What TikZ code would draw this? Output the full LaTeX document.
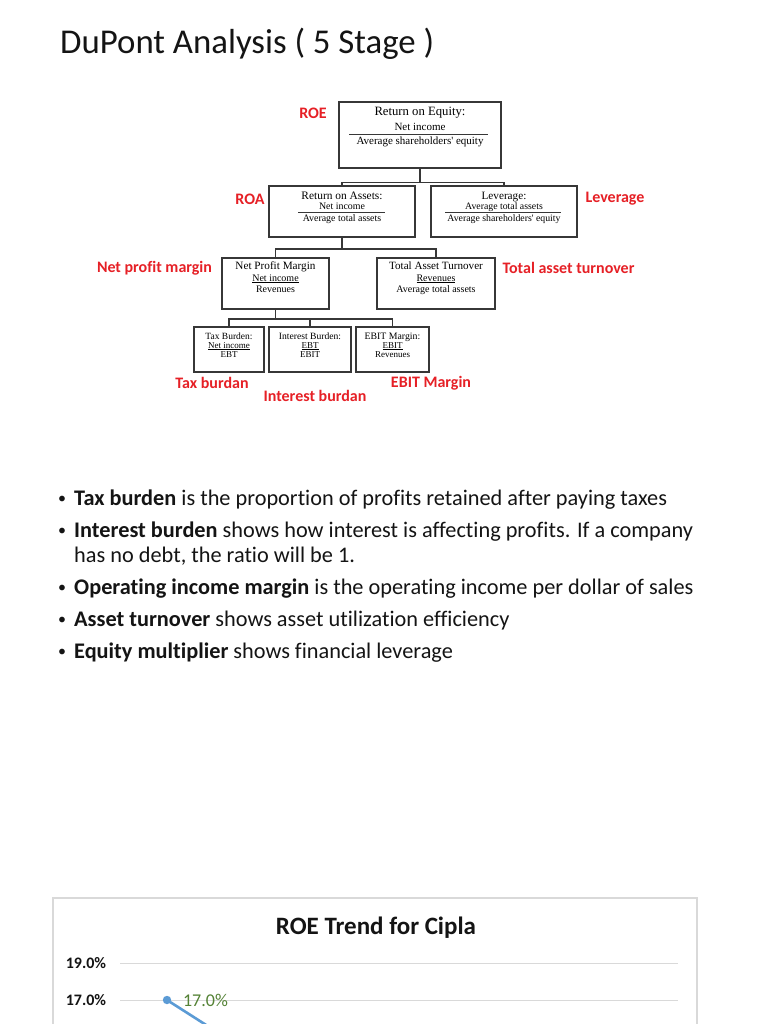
\documentclass[tikz,border=0pt]{standalone}
\usepackage{fontspec}
\setmainfont[Ligatures=NoCommon]{Carlito}
\newfontfamily\timesf{Liberation Serif}
\usetikzlibrary{calc}
\definecolor{redc}{RGB}{230,32,38}
\definecolor{boxc}{RGB}{55,55,55}
\definecolor{greenc}{RGB}{84,130,53}
\definecolor{bluec}{RGB}{91,155,213}
\definecolor{gridc}{RGB}{217,217,217}
\definecolor{txtc}{RGB}{20,20,20}
\newcommand\myfs[1]{\fontsize{#1}{#1}\selectfont}
\begin{document}
\begin{tikzpicture}[x=1pt,y=-1pt,
  box/.style={draw=boxc,line width=1.5pt,inner sep=0,rectangle},
  conn/.style={draw=boxc,line width=1.5pt},
  fbar/.style={draw=boxc,line width=0.9pt},
  redlab/.style={text=redc,font=\myfs{16}\bfseries,inner sep=0},
  bt/.style={font=\timesf\myfs{#1},inner sep=0,text=black,text height=.66em,text depth=.12em},
  bul/.style={anchor=base west,font=\myfs{22.3},inner sep=0,text=txtc},
  bdot/.style={anchor=base west,font=\myfs{16},inner sep=0,text=txtc},
  axl/.style={font=\myfs{16}\bfseries,inner sep=0,text=txtc},
]
\useasboundingbox (0,0) rectangle (768,1024);
\fill[white] (0,0) rectangle (768,1024);

% title
\node[anchor=base west,font=\myfs{34.8},inner sep=0,text=txtc] (title) at (60,54) {DuPont Analysis ( 5 Stage )};

% boxes
\node[box,minimum width=162,minimum height=66] (roe) at (420,135) {};
\node[box,minimum width=146,minimum height=51] (roa) at (342,211.5) {};
\node[box,minimum width=146,minimum height=51] (lev) at (504,211.5) {};
\node[box,minimum width=107,minimum height=51] (npm) at (275.5,283.5) {};
\node[box,minimum width=118,minimum height=51] (tat) at (436,283.5) {};
\node[box,minimum width=70,minimum height=45] (tax) at (229,349.5) {};
\node[box,minimum width=82,minimum height=45] (int) at (310,349.5) {};
\node[box,minimum width=73,minimum height=45] (ebit) at (392.5,349.5) {};

% connectors
\draw[conn] (roe.south) -- ++(0,14) coordinate (j1);
\draw[conn] (roa.north) |- (j1) -| (lev.north);
\draw[conn] (roa.south) -- ++(0,11) coordinate (j2);
\draw[conn] (npm.north) |- (j2) -| (tat.north);
\draw[conn] (npm.south) -- ++(0,9) coordinate (j3);
\draw[conn] (tax.north) |- (j3) -| (ebit.north);
\draw[conn] (int.north) -- (int.north |- j3);

% box texts
\node[bt=12.7] (roet) at (420,113) {Return on Equity:};
\node[bt=11] (roen) at (420,127.5) {Net income};
\node[bt=11] (roed) at (420,142) {Average shareholders' equity};
\draw[fbar] (349,134) -- (488,134);

\node[bt=11.4] (roat) at (342,197) {Return on Assets:};
\node[bt=9.9] (roan) at (342,206.5) {Net income};
\node[bt=9.9] (road) at (342,218.5) {Average total assets};
\draw[fbar] (298,212) -- (385,212);

\node[bt=11.2] (levt) at (504,197) {Leverage:};
\node[bt=9.8] (levn) at (504,206.5) {Average total assets};
\node[bt=9.8] (levd) at (504,219) {Average shareholders' equity};
\draw[fbar] (445,212.5) -- (561,212.5);

\node[bt=11.2] (npmt) at (275.5,267) {Net Profit Margin};
\node[bt=10] (npmn) at (275.5,278.5) {\underline{Net income}};
\node[bt=10] (npmd) at (275.5,289.5) {Revenues};

\node[bt=11.1] (tatt) at (436,267) {Total Asset Turnover};
\node[bt=10] (tatn) at (436,278.5) {\underline{Revenues}};
\node[bt=10] (tatd) at (436,289.5) {Average total assets};

\node[bt=9.5] (taxt) at (229,336.5) {Tax Burden:};
\node[bt=9] (taxn) at (229,345.5) {\underline{Net income}};
\node[bt=9] (taxd) at (229,354.5) {EBT};

\node[bt=9.6] (intt) at (310,336.5) {Interest Burden:};
\node[bt=9] (intn) at (310,345.5) {\underline{EBT}};
\node[bt=9] (intd) at (310,354.5) {EBIT};

\node[bt=9.8] (ebitt) at (392.5,336.5) {EBIT Margin:};
\node[bt=9] (ebitn) at (392.5,345.5) {\underline{EBIT}};
\node[bt=9] (ebitd) at (392.5,354.5) {Revenues};

% red labels
\node[redlab] (lroe) at (313,113) {ROE};
\node[redlab] (lroa) at (250,199) {ROA};
\node[redlab] (llev) at (615,199) {Leverage};
\node[redlab] (lnpm) at (154.5,268) {Net profit margin};
\node[redlab] (ltat) at (568.5,268) {Total asset turnover};
\node[redlab] (ltax) at (212,383) {Tax burdan};
\node[redlab] (lint) at (315,396) {Interest burdan};
\node[redlab] (lebit) at (431,383) {EBIT Margin};

% bullets
\foreach \yy/\nm in {503/b1,535/b2,592/b4,624/b5,656/b6}{
  \node[bdot] (\nm) at (58,\yy) {•};
}
\node[bul] (t1) at (74,505) {\textbf{Tax burden} is the proportion of profits retained after paying taxes};
\node[bul] (t2) at (74,537) {\textbf{Interest burden} shows how interest is affecting profits. If a company};
\node[bul] (t3) at (74,562) {has no debt, the ratio will be 1.};
\node[bul] (t4) at (74,594) {\textbf{Operating income margin} is the operating income per dollar of sales};
\node[bul] (t5) at (74,626) {\textbf{Asset turnover} shows asset utilization efficiency};
\node[bul] (t6) at (74,658) {\textbf{Equity multiplier} shows financial leverage};

% chart
\draw[gridc,line width=1.2pt] (53,1040) -- (53,898) -- (697,898) -- (697,1040);
\node[font=\myfs{25}\bfseries,inner sep=0,text=txtc] (ctitle) at (376,928) {ROE Trend for Cipla};
\draw[gridc,line width=0.8pt] (120,963) -- (678,963);
\draw[gridc,line width=0.8pt] (120,1000) -- (678,1000);
\node[axl] (y19) at (86,963) {19.0\%};
\node[axl] (y17) at (86,1000) {17.0\%};
\coordinate (p1) at (167,1000);
\coordinate (p2) at (214,1030);
\draw[bluec,line width=2.6pt] (p1) -- (p2);
\fill[bluec] (p1) circle (4.2);
\node[font=\myfs{18},inner sep=0,text=greenc] (v1) at (205.5,1000) {17.0\%};
\end{tikzpicture}
\end{document}
